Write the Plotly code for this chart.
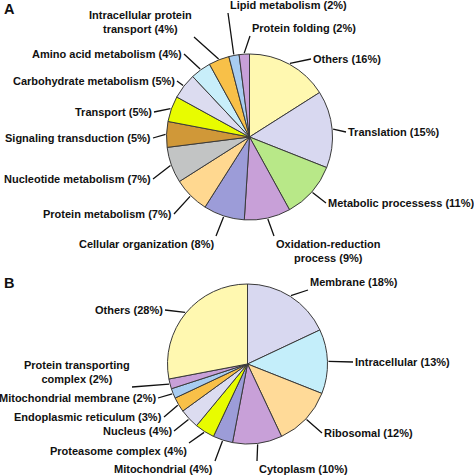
import math
import plotly.graph_objects as go

W, H = 474, 475

# ---- Panel A data (biological process) ----
a_labels = ["Others", "Translation", "Metabolic processess", "Oxidation-reduction<br>process",
            "Cellular organization", "Protein metabolism", "Nucleotide metabolism",
            "Signaling transduction", "Transport", "Carbohydrate metabolism",
            "Amino acid metabolism", "Intracellular protein<br>transport", "Lipid metabolism",
            "Protein folding"]
a_values = [16, 15, 11, 9, 8, 7, 7, 5, 5, 5, 4, 4, 2, 2]
a_colors = ["#FFF8B0", "#D8D8F0", "#B8E888", "#C8A0D8", "#9C9CD8", "#FFD890", "#C2C4C4",
            "#D09838", "#E8FC00", "#DCDCF0", "#C8EEFA", "#F8C048", "#A8CCF0", "#C8A0D8"]

# ---- Panel B data (cellular component) ----
b_labels = ["Membrane", "Intracellular", "Ribosomal", "Cytoplasm", "Mitochondrial",
            "Proteasome complex", "Nucleus", "Endoplasmic reticulum",
            "Mitochondrial membrane", "Protein transporting<br>complex", "Others"]
b_values = [18, 13, 12, 10, 4, 4, 4, 3, 2, 2, 28]
b_colors = ["#D8D8F0", "#C4EEFA", "#FFDA98", "#C8A0D8", "#9C9CD8", "#E8FC00", "#DCDCF0",
            "#F8C048", "#A8CCF0", "#C8A0D8", "#FFF8B0"]

# pie geometry (pixels): center x, center y, radius
A_GEOM = (249.5, 137.0, 83.0)
B_GEOM = (247.5, 364.0, 80.0)

# label placement (pixels): leader-line tail x, y, xanchor, yanchor
a_place = [
    (311, 59, "left", "middle"),
    (346, 132, "left", "middle"),
    (326, 203, "left", "middle"),
    (274, 236, "left", "top"),
    (216, 236, "right", "top"),
    (174, 214, "right", "middle"),
    (153, 179, "right", "middle"),
    (153, 138, "right", "middle"),
    (154, 112, "right", "middle"),
    (177, 81, "right", "middle"),
    (184, 54, "right", "middle"),
    (194, 37, "right", "bottom"),
    (228, 13, "left", "bottom"),
    (250, 36, "left", "bottom"),
]
b_place = [
    (308, 290, "left", "bottom"),
    (353, 362, "left", "middle"),
    (322, 433, "left", "middle"),
    (257, 461, "left", "top"),
    (215, 461, "right", "top"),
    (189, 443, "right", "top"),
    (174, 431, "right", "middle"),
    (164, 417, "right", "middle"),
    (158, 398, "right", "middle"),
    (132, 387, "right", "bottom"),
    (165, 310, "right", "middle"),
]

FONT = dict(family="Liberation Sans, Arial, sans-serif", size=11, color="#111111", weight="bold")


def domain(geom):
    cx, cy, r = geom
    return dict(x=[(cx - r) / W, (cx + r) / W], y=[1 - (cy + r) / H, 1 - (cy - r) / H])


fig = go.Figure()
for labels, values, colors, geom in [(a_labels, a_values, a_colors, A_GEOM),
                                     (b_labels, b_values, b_colors, B_GEOM)]:
    fig.add_trace(go.Pie(labels=labels, values=values, sort=False, direction="clockwise",
                         rotation=0, textinfo="none", domain=domain(geom),
                         marker=dict(colors=colors, line=dict(color="#3a3a3a", width=1)),
                         showlegend=False))

annotations = []
for labels, values, place, geom in [(a_labels, a_values, a_place, A_GEOM),
                                    (b_labels, b_values, b_place, B_GEOM)]:
    cx, cy, r = geom
    total = sum(values)
    cum = 0
    for lab, v, (tx, ty, xa, ya) in zip(labels, values, place):
        mid = (cum + v / 2) / total * 2 * math.pi
        cum += v
        hx = cx + (r + 1) * math.sin(mid)
        hy = cy - (r + 1) * math.cos(mid)
        annotations.append(dict(
            x=hx / W, y=1 - hy / H, xref="paper", yref="paper",
            ax=tx - hx, ay=ty - hy, axref="pixel", ayref="pixel",
            text=f"{lab} ({v}%)", showarrow=True, arrowhead=0, arrowwidth=1.3,
            arrowcolor="#111111", standoff=0, startstandoff=0,
            xanchor=xa, yanchor=ya, align="center", font=FONT, borderpad=1))

for letter, y in [("A", 9), ("B", 283)]:
    annotations.append(dict(x=2 / W, y=1 - y / H, xref="paper", yref="paper", text=letter,
                            showarrow=False, xanchor="left", yanchor="middle",
                            font=dict(family="Liberation Sans, Arial, sans-serif", size=14.5,
                                      color="#111111", weight="bold")))

fig.update_layout(width=W, height=H, margin=dict(l=0, r=0, t=0, b=0),
                  paper_bgcolor="white", plot_bgcolor="white",
                  annotations=annotations, showlegend=False)

fig.write_html("out.html", config={"displayModeBar": False},
               post_script="document.body.style.margin='0px';document.body.style.overflow='hidden';")
